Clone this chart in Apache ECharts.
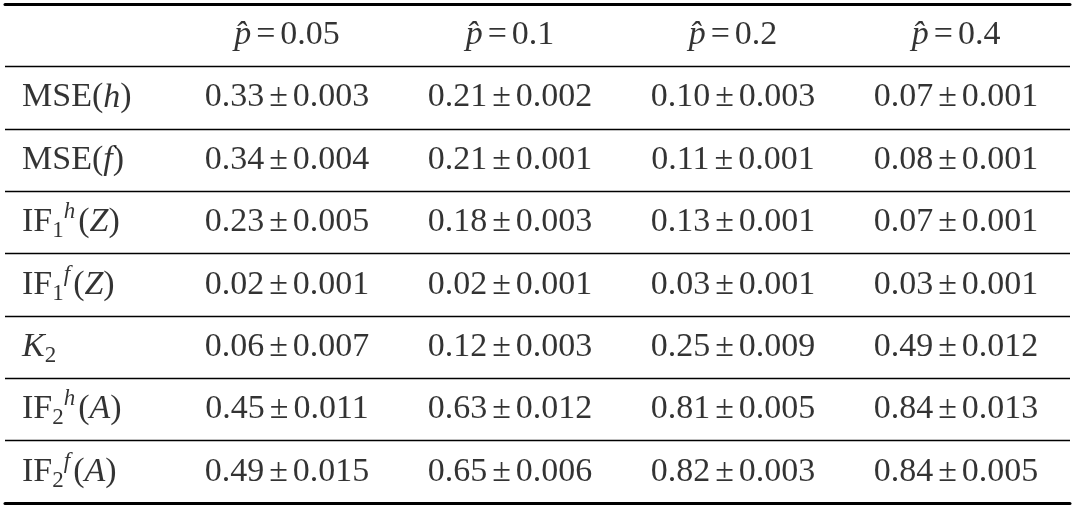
<!DOCTYPE html>
<html>
<head>
<meta charset="utf-8">
<script src="https://cdn.jsdelivr.net/npm/echarts@6/dist/echarts.min.js"></script>
<style>html,body{margin:0;background:#fff}#c{width:1075px;height:509px}</style>
</head>
<body>
<div id="c"></div>
<script>
// table content
const headers = ["0.05", "0.1", "0.2", "0.4"];
const rowLabels = [
  "{t|MSE(}{i|h}{t|)}",
  "{t|MSE(}{i|f}{t|)}",
  "{t|IF}{sub|1}{sup|h}{t|(}{i|Z}{t|)}",
  "{t|IF}{sub|1}{sup|f}{t|(}{i|Z}{t|)}",
  "{i|K}{sub|2}",
  "{t|IF}{sub|2}{sup|h}{t|(}{i|A}{t|)}",
  "{t|IF}{sub|2}{sup|f}{t|(}{i|A}{t|)}"
];
const means = [
  [0.33, 0.21, 0.10, 0.07],
  [0.34, 0.21, 0.11, 0.08],
  [0.23, 0.18, 0.13, 0.07],
  [0.02, 0.02, 0.03, 0.03],
  [0.06, 0.12, 0.25, 0.49],
  [0.45, 0.63, 0.81, 0.84],
  [0.49, 0.65, 0.82, 0.84]
];
const errs = [
  [0.003, 0.002, 0.003, 0.001],
  [0.004, 0.001, 0.001, 0.001],
  [0.005, 0.003, 0.001, 0.001],
  [0.001, 0.001, 0.001, 0.001],
  [0.007, 0.003, 0.009, 0.012],
  [0.011, 0.012, 0.005, 0.013],
  [0.015, 0.006, 0.003, 0.005]
];

const rows = ["head"].concat(rowLabels.map((_, i) => "r" + i));
const font = "Liberation Serif";
const rich = {
  t: { fontFamily: font, fontSize: 34, color: "#000" },
  pm: { fontFamily: font, fontSize: 34, color: "#000", padding: [0, 5, 0, 5] },
  i: { fontFamily: font, fontSize: 34, fontStyle: "italic", color: "#000" },
  sub: { fontFamily: font, fontSize: 23, color: "#000", padding: [18, 0, 0, 0] },
  sup: { fontFamily: font, fontSize: 23, fontStyle: "italic", color: "#000", padding: [0, 3, 20, 0] }
};

const cells = [];
headers.forEach((h, j) => {
  cells.push({ value: [j + 1, "head"], text: "{i|p\u0302}{pm|=}{t|" + h + "}" });
});
rowLabels.forEach((lab, i) => {
  cells.push({ value: [0, "r" + i], text: lab, left: true });
  means[i].forEach((m, j) => {
    cells.push({
      value: [j + 1, "r" + i],
      text: "{t|" + m.toFixed(2) + "}{pm|\u00b1}{t|" + errs[i][j].toFixed(3) + "}"
    });
  });
});

const chart = echarts.init(document.getElementById("c"));
chart.setOption({
  animation: false,
  grid: { left: 5, right: 5, top: 4, bottom: 6 },
  xAxis: [
    { type: "value", min: -0.2646, max: 4.511, position: "bottom",
      axisLine: { show: true, onZero: false, lineStyle: { color: "#000", width: 3 } },
      axisTick: { show: false }, axisLabel: { show: false }, splitLine: { show: false } },
    { type: "value", min: -0.2646, max: 4.511, position: "top",
      axisLine: { show: true, onZero: false, lineStyle: { color: "#000", width: 3 } },
      axisTick: { show: false }, axisLabel: { show: false }, splitLine: { show: false } }
  ],
  yAxis: {
    type: "category", data: rows, inverse: true,
    axisLine: { show: false }, axisTick: { show: false }, axisLabel: { show: false },
    splitLine: { show: true, lineStyle: { color: "#000", width: 1.4 } }
  },
  series: [{
    type: "scatter",
    symbolSize: 0,
    data: cells.map(c => ({
      value: c.value,
      label: {
        show: true,
        position: "inside",
        align: c.left ? "left" : "center",
        offset: c.left ? [-42, 0] : [0, 0],
        formatter: c.text,
        rich: rich
      }
    }))
  }]
});
</script>
</body>
</html>
